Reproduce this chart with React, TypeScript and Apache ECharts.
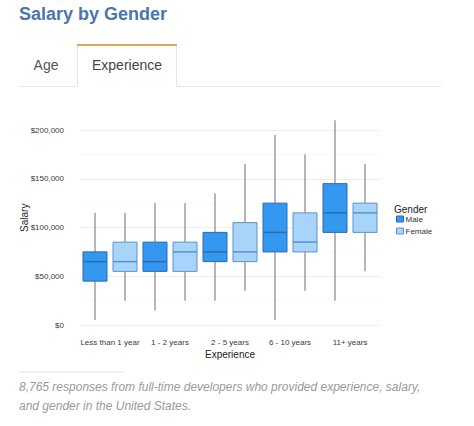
import React, { useEffect, useRef } from "react";
import * as echarts from "echarts";

const categories = ["Less than 1 year", "1 - 2 years", "2 - 5 years", "6 - 10 years", "11+ years"];
const seriesNames = ["Male", "Female"];

const maleMin = [5000, 15000, 25000, 5000, 25000];
const maleQ1 = [45000, 55000, 65000, 75000, 95000];
const maleMedian = [65000, 65000, 75000, 95000, 115000];
const maleQ3 = [75000, 85000, 95000, 125000, 145000];
const maleMax = [115000, 125000, 135000, 195000, 210000];

const femaleMin = [25000, 25000, 35000, 35000, 55000];
const femaleQ1 = [55000, 55000, 65000, 75000, 95000];
const femaleMedian = [65000, 75000, 75000, 85000, 115000];
const femaleQ3 = [85000, 85000, 105000, 115000, 125000];
const femaleMax = [115000, 125000, 165000, 175000, 165000];

const yMin = 0;
const yMax = 220000;
const yInterval = 50000;

const titleText = "Salary by Gender";
const tabLabels = ["Age", "Experience"];
const footnoteLines = [
  "8,765 responses from full-time developers who provided experience, salary,",
  "and gender in the United States.",
];

const FONT = "'Liberation Sans', Arial, Helvetica, sans-serif";

const styles = {
  Male: { fill: "#3497f0", stroke: "#2a6cb3", offset: -0.25 },
  Female: { fill: "#a9d4fa", stroke: "#5a92cc", offset: 0.25 },
};

function buildData(mins: number[], q1: number[], med: number[], q3: number[], maxs: number[]) {
  return categories.map((_, i) => [i, mins[i], q1[i], med[i], q3[i], maxs[i]]);
}

function makeRender(offset: number, fill: string, stroke: string) {
  return (params: any, api: any) => {
    const x = api.value(0);
    const pMin = api.coord([x, api.value(1)]);
    const pQ1 = api.coord([x, api.value(2)]);
    const pMed = api.coord([x, api.value(3)]);
    const pQ3 = api.coord([x, api.value(4)]);
    const pMax = api.coord([x, api.value(5)]);
    const band = api.size([1, 0])[0];
    const cx = pMin[0] + offset * band;
    const w = band * 0.4;
    return {
      type: "group",
      children: [
        { type: "line", shape: { x1: cx, y1: pMax[1], x2: cx, y2: pQ3[1] }, style: { stroke: "#6f6f6f", lineWidth: 1 } },
        { type: "line", shape: { x1: cx, y1: pQ1[1], x2: cx, y2: pMin[1] }, style: { stroke: "#6f6f6f", lineWidth: 1 } },
        {
          type: "rect",
          shape: { x: cx - w / 2, y: pQ3[1], width: w, height: pQ1[1] - pQ3[1] },
          style: { fill, stroke, lineWidth: 1 },
        },
        { type: "line", shape: { x1: cx - w / 2, y1: pMed[1], x2: cx + w / 2, y2: pMed[1] }, style: { stroke, lineWidth: 1.5 } },
      ],
    };
  };
}

export default function App() {
  const ref = useRef<HTMLDivElement>(null);
  useEffect(() => {
    if (!ref.current) return;
    const chart = echarts.init(ref.current, undefined, { renderer: "svg" });
    const option: any = {
      animation: false,
      backgroundColor: "#ffffff",
      textStyle: { fontFamily: FONT },
      grid: { left: 80, width: 300, top: 110.5, height: 214.5 },
      xAxis: {
        type: "category",
        data: categories,
        axisLine: { show: false },
        axisTick: { show: false },
        axisLabel: { interval: 0, fontSize: 8, color: "#3a3a3a", margin: 13, fontFamily: FONT },
        splitLine: { show: false },
        name: "Experience",
        nameLocation: "middle",
        nameGap: 24,
        nameMoveOverlap: false,
        nameTextStyle: { fontSize: 10, color: "#222", fontFamily: FONT },
      },
      yAxis: {
        type: "value",
        min: yMin,
        max: yMax,
        interval: yInterval,
        axisLine: { show: false },
        axisTick: { show: false },
        axisLabel: {
          fontSize: 8,
          color: "#3a3a3a",
          margin: 16,
          fontFamily: FONT,
          showMaxLabel: false,
          formatter: (v: number) => (v % yInterval === 0 ? "$" + v.toLocaleString("en-US") : ""),
        },
        splitLine: { show: true, showMaxLine: false, lineStyle: { color: "#eeeeee", width: 1 } },
        minorTick: { show: false, splitNumber: 2 },
        minorSplitLine: { show: true, lineStyle: { color: "#f7f7f7", width: 0.8 } },
        name: "Salary",
        nameLocation: "middle",
        nameGap: 51,
        nameMoveOverlap: false,
        nameTextStyle: { fontSize: 10, color: "#222", fontFamily: FONT },
      },
      legend: {
        orient: "vertical",
        left: 396,
        top: 215,
        padding: 0,
        itemWidth: 7,
        itemHeight: 6,
        itemGap: 4,
        textStyle: { fontSize: 8, color: "#333", fontFamily: FONT, padding: [0, 0, 0, -3] },
        data: seriesNames.map((n) => ({
          name: n,
          icon: "rect",
          itemStyle: { color: (styles as any)[n].fill, borderColor: (styles as any)[n].stroke, borderWidth: 1 },
        })),
      },
      series: [
        {
          name: "Male",
          type: "custom",
          renderItem: makeRender(styles.Male.offset, styles.Male.fill, styles.Male.stroke),
          itemStyle: { color: styles.Male.fill, borderColor: styles.Male.stroke },
          encode: { x: 0, y: [1, 2, 3, 4, 5] },
          data: buildData(maleMin, maleQ1, maleMedian, maleQ3, maleMax),
        },
        {
          name: "Female",
          type: "custom",
          renderItem: makeRender(styles.Female.offset, styles.Female.fill, styles.Female.stroke),
          itemStyle: { color: styles.Female.fill, borderColor: styles.Female.stroke },
          encode: { x: 0, y: [1, 2, 3, 4, 5] },
          data: buildData(femaleMin, femaleQ1, femaleMedian, femaleQ3, femaleMax),
        },
      ],
      graphic: [
        {
          type: "text",
          left: 19,
          top: 5,
          style: { text: titleText, font: `bold 18px ${FONT}`, fill: "#4a77a9" },
        },
        // tabs
        { type: "line", shape: { x1: 19, y1: 86.5, x2: 77, y2: 86.5 }, style: { stroke: "#e6e6e6", lineWidth: 1 } },
        { type: "line", shape: { x1: 176, y1: 86.5, x2: 441, y2: 86.5 }, style: { stroke: "#e6e6e6", lineWidth: 1 } },
        { type: "line", shape: { x1: 77.5, y1: 45, x2: 77.5, y2: 86.5 }, style: { stroke: "#e6e6e6", lineWidth: 1 } },
        { type: "line", shape: { x1: 176.5, y1: 45, x2: 176.5, y2: 86.5 }, style: { stroke: "#e6e6e6", lineWidth: 1 } },
        { type: "line", shape: { x1: 77, y1: 45, x2: 177, y2: 45 }, style: { stroke: "#f0a04b", lineWidth: 2 } },
        {
          type: "text",
          x: 46,
          y: 65,
          style: { text: tabLabels[0], font: `14px ${FONT}`, fill: "#555", align: "center", verticalAlign: "middle" },
        },
        {
          type: "text",
          x: 127,
          y: 65,
          style: { text: tabLabels[1], font: `14px ${FONT}`, fill: "#444", align: "center", verticalAlign: "middle" },
        },
        // legend title
        {
          type: "text",
          x: 394,
          y: 209,
          style: { text: "Gender", font: `10px ${FONT}`, fill: "#222", verticalAlign: "middle" },
        },
        // footnote
        { type: "line", shape: { x1: 19, y1: 372, x2: 124, y2: 372 }, style: { stroke: "#e2e2e2", lineWidth: 1 } },
        {
          type: "text",
          x: 19,
          y: 387,
          style: { text: footnoteLines[0], font: `italic 12px ${FONT}`, fill: "#9a9a9a", verticalAlign: "middle" },
        },
        {
          type: "text",
          x: 19,
          y: 406,
          style: { text: footnoteLines[1], font: `italic 12px ${FONT}`, fill: "#9a9a9a", verticalAlign: "middle" },
        },
      ],
    };
    chart.setOption(option);
    return () => chart.dispose();
  }, []);
  return (
    <div
      ref={ref}
      style={{ position: "absolute", left: 0, top: 0, width: 474, height: 426, background: "#fff" }}
    />
  );
}
